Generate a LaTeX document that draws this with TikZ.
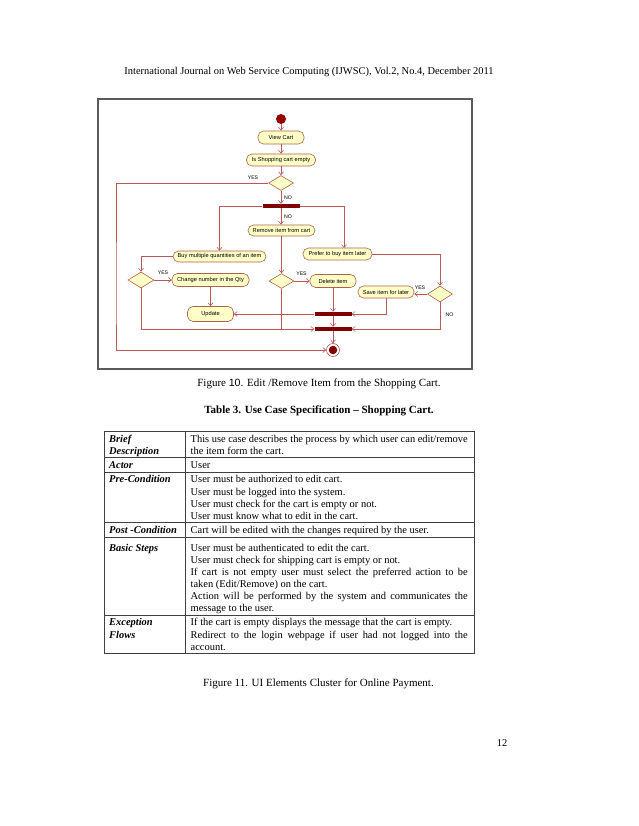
\documentclass[tikz,border=0pt]{standalone}
\usepackage{fontspec}
\setmainfont{Liberation Serif}
\newfontfamily\diag{Liberation Sans}
\usetikzlibrary{arrows.meta,shapes.geometric}
\definecolor{linec}{RGB}{184,88,88}
\definecolor{boxc}{RGB}{170,100,70}
\definecolor{boxf}{RGB}{255,255,200}
\definecolor{barc}{RGB}{128,0,0}
\definecolor{startc}{RGB}{150,0,0}
\definecolor{framec}{RGB}{90,90,90}
\newcommand\dfont{\diag\fontsize{5.7}{6.5}\selectfont}
\newcommand\lfont{\diag\fontsize{5.2}{6}\selectfont}
\newcommand\tfont{\fontsize{10.45}{12.2}\selectfont}
\newcommand\cfont{\fontsize{11}{13}\selectfont}
\begin{document}
\begin{tikzpicture}[x=1pt,y=-1pt,
  act/.style={draw=boxc, fill=boxf, rounded corners=5.5pt, inner sep=0pt, line width=0.6pt, font=\dfont},
  dec/.style={diamond, draw=boxc, fill=boxf, inner sep=0pt, line width=0.6pt, minimum width=25pt, minimum height=15pt},
  bar/.style={fill=barc, inner sep=0pt, minimum width=37pt, minimum height=4pt},
  flow/.style={draw=linec, line width=0.6pt, -{Straight Barb[length=3pt,width=5pt]}},
  plain/.style={draw=linec, line width=0.6pt},
  lab/.style={font=\lfont, inner sep=0pt},
  cell/.style={anchor=base west, inner sep=0pt, font=\tfont},
  hcell/.style={anchor=base west, inner sep=0pt, font=\tfont\bfseries\itshape},
  tline/.style={draw=black!75, line width=0.8pt}
]
\useasboundingbox[fill=white] (0,0) rectangle (638,826);

% header
\node[font=\tfont, inner sep=0pt] (hdr) at (309,72) {International Journal on Web Service Computing (IJWSC), Vol.2, No.4, December 2011};

% frame
\draw[draw=framec, line width=1.2pt] (98,99) rectangle (472,369);

% diagram nodes
\node[circle, fill=startc, minimum size=10pt, inner sep=0pt] (start) at (281,119) {};
\node[act, minimum width=46pt, minimum height=13pt] (view) at (281,137.5) {View Cart};
\node[act, minimum width=69pt, minimum height=12pt] (empty) at (281,160) {Is Shopping cart empty};
\node[dec] (d1) at (281,183) {};
\node[bar] (bar0) at (281,206) {};
\node[act, minimum width=67pt, minimum height=11pt] (remove) at (281.5,230.5) {Remove item from cart};
\node[act, minimum width=93pt, minimum height=11pt] (buy) at (219.5,256.5) {Buy multiple quantities of an item};
\node[act, minimum width=69pt, minimum height=12pt] (prefer) at (337.5,254) {Prefer to buy item later};
\coordinate (prtop) at (344,248);
\node[dec, minimum width=26pt, minimum height=16pt] (d2) at (141,280) {};
\node[act, minimum width=77pt, minimum height=13pt] (change) at (210.5,280) {Change number in the Qty};
\node[act, minimum width=46pt, minimum height=15pt] (update) at (210.5,314) {Update};
\node[dec] (d3) at (281.5,281) {};
\node[act, minimum width=46pt, minimum height=13pt] (delete) at (333,281) {Delete item};
\node[act, minimum width=56pt, minimum height=12pt] (save) at (386,292) {Save item for later};
\node[dec, minimum height=16pt] (d4) at (440,294) {};
\node[bar] (bar1) at (333,314) {};
\node[bar] (bar2) at (333,329) {};
\node[circle, draw=linec, fill=white, minimum size=13pt, inner sep=0pt, line width=0.6pt] (final) at (333,350) {};
\node[circle, fill=barc, minimum size=8.5pt, inner sep=0pt] (finalin) at (final) {};
\coordinate (cL) at (116,300);

% labels
\node[lab] (y1) at (253,178) {YES};
\node[lab] (n1) at (288,197.5) {NO};
\node[lab] (n2) at (288,217) {NO};
\node[lab] (y2) at (163,272.5) {YES};
\node[lab] (y3) at (301.5,273.5) {YES};
\node[lab] (y4) at (420,288) {YES};
\node[lab] (n3) at (449.5,315) {NO};

% connectors
\draw[flow] (start) -- (view);
\draw[flow] (view) -- (empty);
\draw[flow] (empty) -- (d1);
\draw[flow] (d1.west) -| (cL) |- (final.west);
\draw[flow] (d1) -- (bar0);
\draw[flow] (bar0) -- (bar0 |- remove.north);
\draw[flow] (bar0.west) -| (buy.north);
\draw[flow] (bar0.east) -| (prtop);
\draw[flow] (buy.west) -| (d2.north);
\draw[flow] (d2.east) -- (change.west);
\draw[flow] (change.south) -- (update.north);
\draw[flow] (d2.south) |- (bar2.west);
\draw[flow] (remove) -- (d3);
\draw[flow] (d3.east) -- (delete.west);
\draw[plain] (d3.south) -- (d3.south |- bar2.west);
\draw[flow] (delete.south) -- (bar1.north);
\draw[flow] (save.south) |- (bar1.east);
\draw[flow] (bar1.west) -- (update.east);
\draw[flow] (prefer.east) -| (d4.north);
\draw[flow] (d4.west) -- (d4.west -| save.east);
\draw[flow] (d4.south) |- (bar2.east);
\draw[flow] (bar1) -- (bar2);
\draw[flow] (bar2) -- (final);

% captions
\node[font=\cfont, inner sep=0pt] (cap10) at (319,384) {Figure {\diag\fontsize{10.6}{13}\selectfont 10.} Edit /Remove Item from the Shopping Cart.};
\node[font=\cfont\bfseries, inner sep=0pt] (tcap) at (319,411) {Table 3. Use Case Specification -- Shopping Cart.};

% table grid
\draw[tline] (104,431) rectangle (474,653.5);
\draw[tline] (185,431) -- (185,653.5);
\draw[tline] (104,457.5) -- (474,457.5);
\draw[tline] (104,471.9) -- (474,471.9);
\draw[tline] (104,522.6) -- (474,522.6);
\draw[tline] (104,537.0) -- (474,537.0);
\draw[tline] (104,614.9) -- (474,614.9);

% left column
\node[hcell] (h1a) at (109,442) {Brief};
\node[hcell] (h1b) at (109,454.1) {Description};
\node[hcell] (h2) at (109,468.5) {Actor};
\node[hcell] (h3) at (109,482.9) {Pre-Condition};
\node[hcell] (h4) at (109,533.6) {Post -Condition};
\node[hcell] (h5) at (109,551.0) {Basic Steps};
\node[hcell] (h6a) at (109,625.9) {Exception};
\node[hcell] (h6b) at (109,638.0) {Flows};

% right column
\node[cell] (r1a) at (190.5,442) {\makebox[277pt][s]{This use case describes the process by which user can edit/remove}};
\node[cell] (r1b) at (190.5,454.1) {the item form the cart.};
\node[cell] (r2) at (190.5,468.5) {User};
\node[cell] (r3a) at (190.5,482.9) {User must be authorized to edit cart.};
\node[cell] (r3b) at (190.5,495.0) {User must be logged into the system.};
\node[cell] (r3c) at (190.5,507.1) {User must check for the cart is empty or not.};
\node[cell] (r3d) at (190.5,519.2) {User must know what to edit in the cart.};
\node[cell] (r4) at (190.5,533.6) {Cart will be edited with the changes required by the user.};
\node[cell] (r5a) at (190.5,551.0) {User must be authenticated to edit the cart.};
\node[cell] (r5b) at (190.5,563.1) {User must check for shipping cart is empty or not.};
\node[cell] (r5c) at (190.5,575.2) {\makebox[277pt][s]{If cart is not empty user must select the preferred action to be}};
\node[cell] (r5d) at (190.5,587.3) {taken (Edit/Remove) on the cart.};
\node[cell] (r5e) at (190.5,599.4) {\makebox[277pt][s]{Action will be performed by the system and communicates the}};
\node[cell] (r5f) at (190.5,611.5) {message to the user.};
\node[cell] (r6a) at (190.5,625.9) {If the cart is empty displays the message that the cart is empty.};
\node[cell] (r6b) at (190.5,638.0) {\makebox[277pt][s]{Redirect to the login webpage if user had not logged into the}};
\node[cell] (r6c) at (190.5,650.1) {account.};

% bottom
\node[font=\cfont, inner sep=0pt] (cap11) at (318.5,684) {Figure 11. UI Elements Cluster for Online Payment.};
\node[font=\tfont, inner sep=0pt] (pnum) at (502,743) {12};
\end{tikzpicture}
\end{document}
